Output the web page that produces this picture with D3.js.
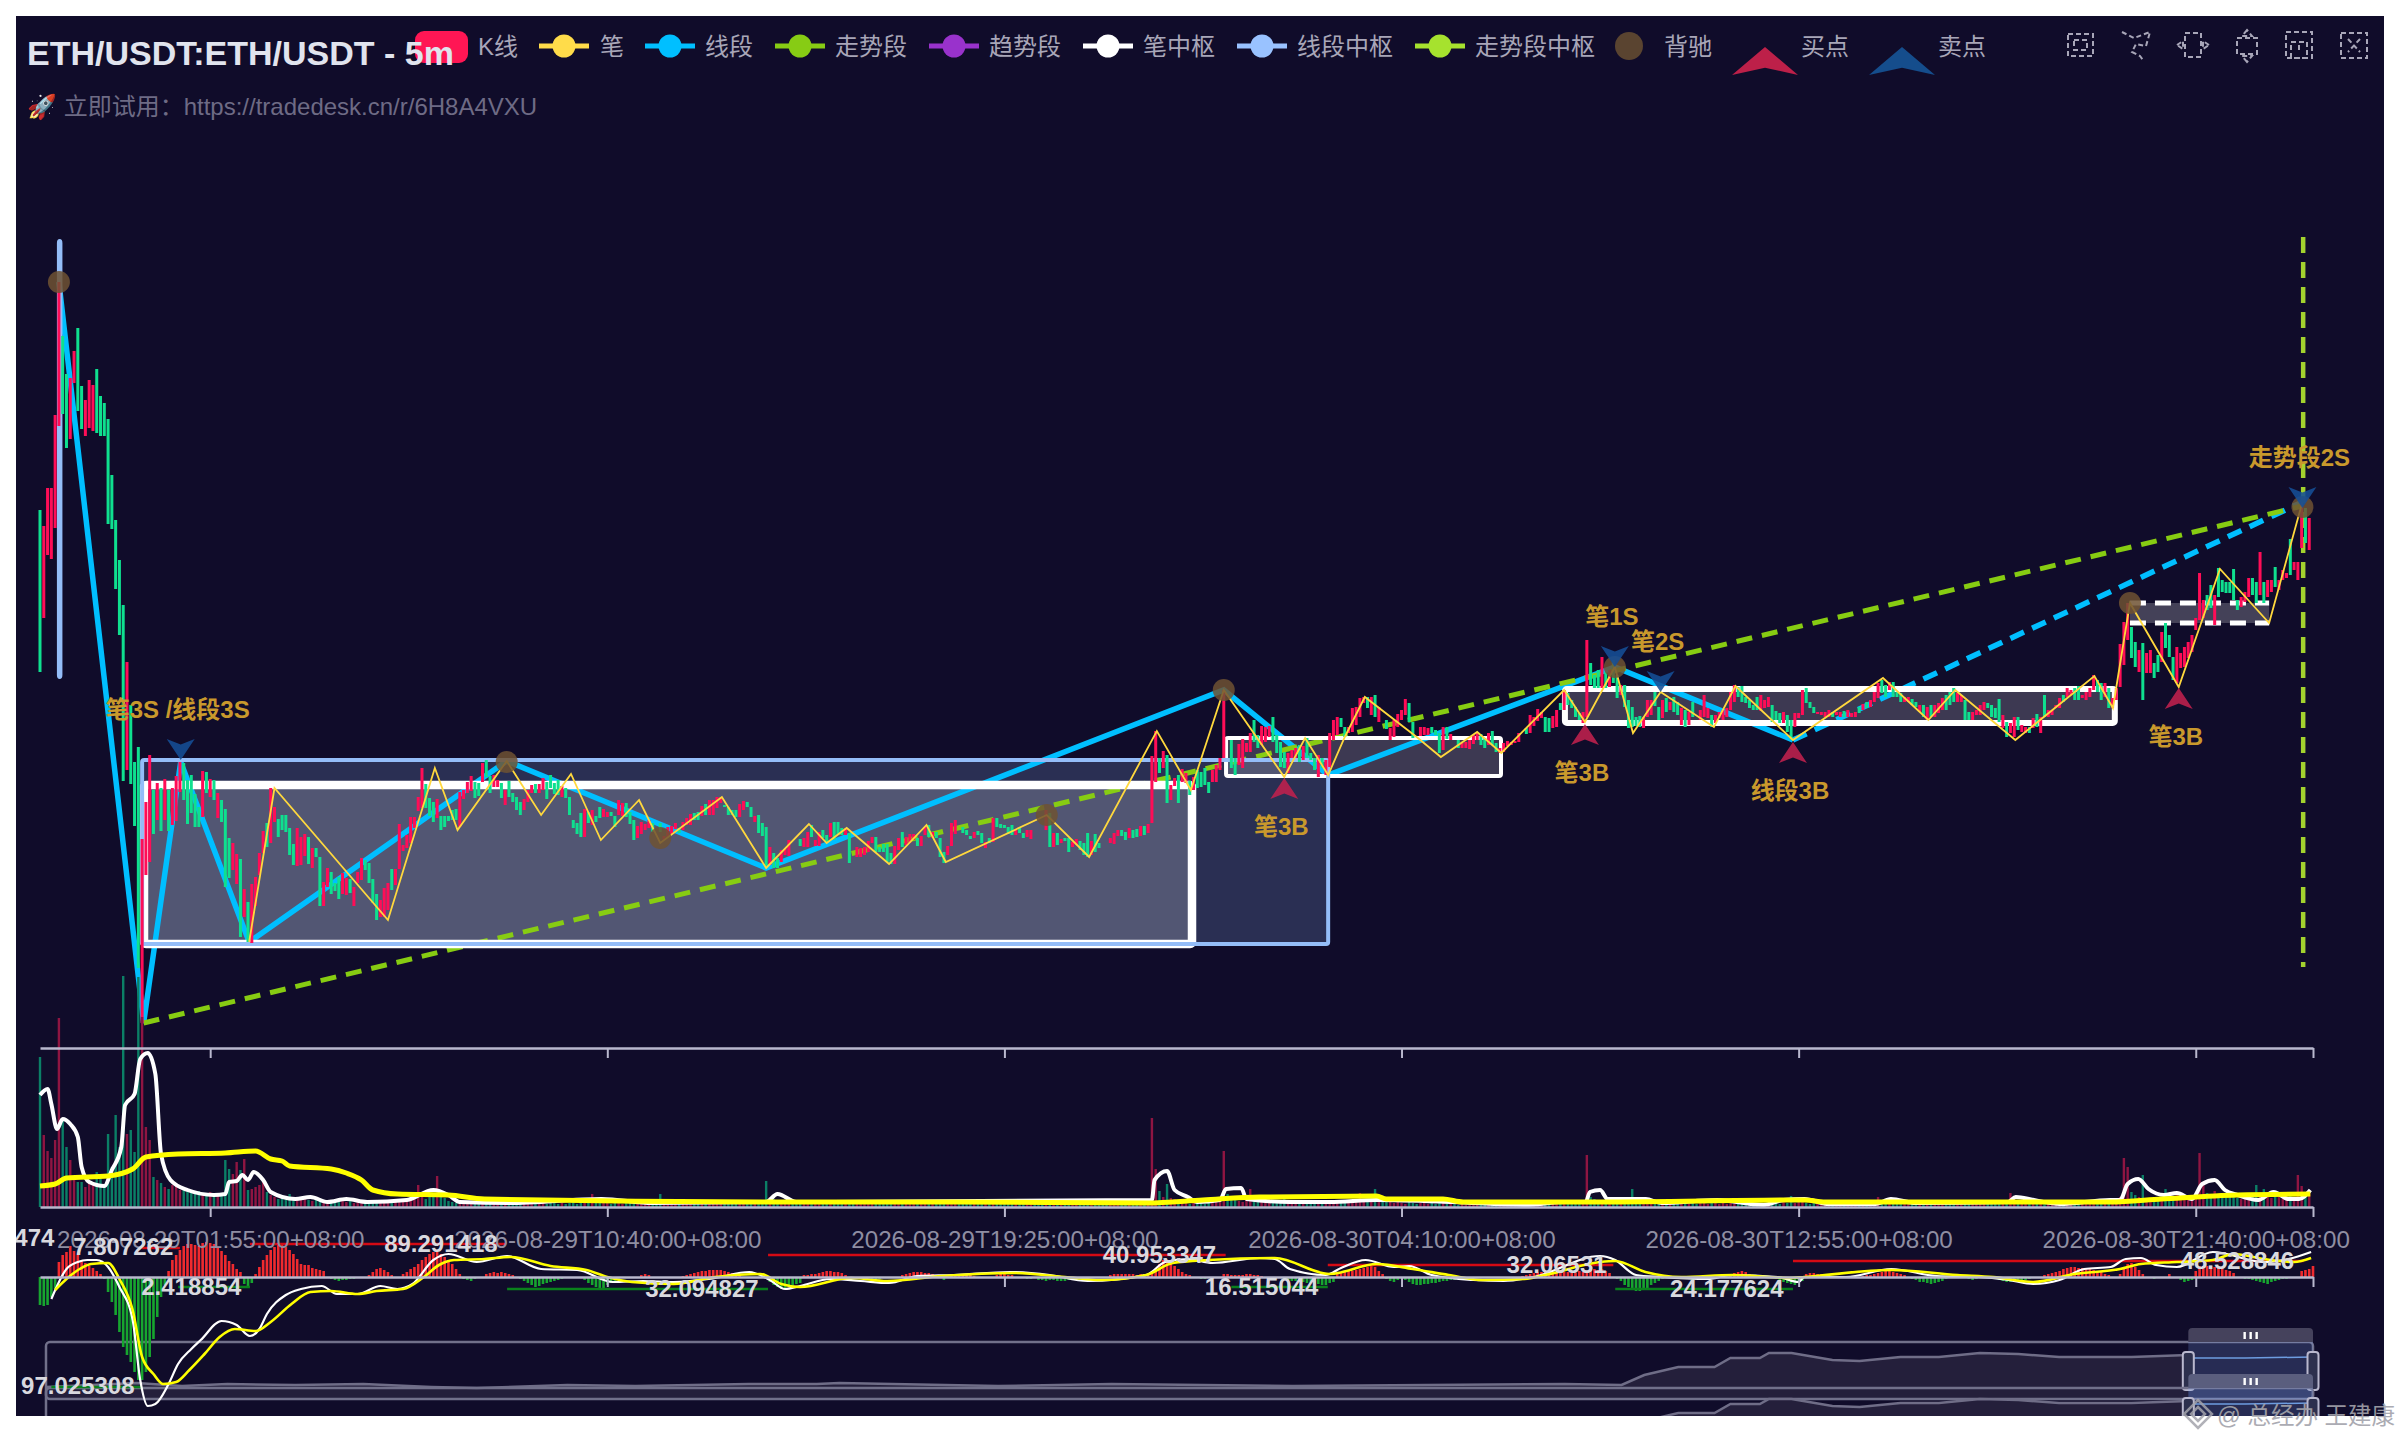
<!DOCTYPE html>
<html>
<head>
<meta charset="utf-8" />
<script src="https://d3js.org/d3.v7.min.js"></script>
<style>
	html, body { margin:0; padding:0; background:#fff; }
	svg { display:block; font-family:"Liberation Sans","Noto Sans CJK SC",sans-serif; }
</style>
</head>
<body>
<script>
// the picture has no price axis, so prices and volumes are relative units read off the chart
var titleText = "ETH/USDT:ETH/USDT - 5m";
var subtitleText = "🚀 立即试用：https://tradedesk.cn/r/6H8A4VXU";
var legendNames = ["K线","笔","线段","走势段","趋势段","笔中枢","线段中枢","走势段中枢","背驰","买点","卖点"];
var tickBars = [45,150,255,360,465,570,601];
var tickLabels = ["2026-08-29T01:55:00+08:00","2026-08-29T10:40:00+08:00","2026-08-29T19:25:00+08:00","2026-08-30T04:10:00+08:00","2026-08-30T12:55:00+08:00","2026-08-30T21:40:00+08:00",""];

// kline rows: [first bar, [[open,close],...]]
var candleRows = [
[0,[[538,376],[430,522],[493,560],[489,560],[520,633],[622,766],[712,634],[674,600],[609,670],[665,697],[720,637],[662,619],[612,648],[620,668],[617,663],[679,615],[652,612],[645,612],[629,524],[573,519]]],
[20,[[528,459],[488,413],[443,267],[278,386],[343,264],[286,222],[301,80],[25,209],[173,246],[186,293],[258,214],[228,265],[260,217],[228,269],[258,217],[223,260],[227,272],[256,286],[285,248],[268,224]]],
[40,[[273,235],[254,221],[241,221],[231,277],[276,255],[251,269],[268,248],[230,255],[248,226],[239,161],[210,170],[178,205],[164,194],[189,111],[131,159],[146,106],[105,164],[142,171],[173,195],[195,217]]],
[60,[[225,201],[205,260],[226,241],[229,211],[233,218],[233,216],[220,193],[204,183],[182,220],[183,211],[192,214],[211,184],[180,200],[200,191],[191,142],[142,166],[161,180],[176,154],[165,157],[171,149]]],
[80,[[154,175],[153,170],[169,155],[142,161],[165,176],[168,190],[188,178],[185,165],[169,145],[154,128],[131,148],[131,160],[138,165],[179,158],[163,179],[179,224],[197,203],[200,213],[205,231],[220,231]]],
[100,[[237,251],[240,280],[264,240],[250,232],[246,226],[230,249],[232,218],[232,221],[232,227],[238,228],[239,228],[221,256],[249,258],[255,266],[257,272],[266,250],[265,252],[266,285],[288,271],[272,255]]],
[120,[[261,273],[261,268],[265,250],[243,258],[267,251],[255,246],[251,238],[246,233],[238,249],[246,258],[255,263],[264,255],[255,264],[258,270],[266,249],[273,260],[265,254],[268,253],[251,262],[260,250]]],
[140,[[251,233],[228,220],[225,214],[235,211],[211,239],[236,225],[223,238],[232,226],[241,230],[231,239],[231,236],[236,232],[232,221],[233,248],[232,245],[245,231],[236,224],[228,208]]],
[158,[[210,222],[214,226],[218,224],[220,228],[225,216]]],
[164,[[225,216],[208,212],[211,221],[214,222],[219,225],[220,215],[218,226],[223,230],[223,234],[235,228],[236,228],[232,242],[244,233],[233,248]]],
[178,[[233,248],[240,251],[245,251],[243,241],[241,233],[238,233],[238,231],[231,244],[238,247],[246,241],[241,231],[226,232],[233,215],[225,212],[221,181]]],
[193,[[183,201],[195,180],[190,180],[186,198],[193,199],[192,208]]],
[201,[[209,202],[201,210],[201,216],[223,211],[202,208],[202,216],[218,210],[213,206],[211,225],[226,208],[226,213],[220,213],[213,220],[215,185]]],
[216,[[191,201],[191,200],[193,201],[196,207],[205,211],[211,196],[201,196],[204,196],[204,186],[195,184],[184,202],[198,210],[216,201],[203,211],[205,214],[208,214],[210,202],[202,212],[213,221],[223,211],[210,216],[216,210],[210,191],[196,185],[193,202],[202,225],[214,228]]],
[244,[[221,215],[218,213],[212,209],[210,216],[217,213],[215,205],[200,206],[210,205],[206,230],[230,221],[224,220],[223,220],[221,214],[223,213],[213,218],[220,215],[215,210],[211,218],[209,218]]],
[266,[[218,238],[235,201],[201,215],[215,203],[205,209],[210,207],[210,196],[201,206],[203,209],[207,198],[205,193],[215,191],[193,207],[214,196],[205,200]]],
[283,[[205,210],[204,215],[212,218],[218,212],[216,208],[210,220],[218,210],[219,211],[212,222],[222,213],[215,224]]],
[294,[[225,292],[266,317],[290,275],[280,297],[293,245],[248,263],[262,270],[273,245]]],
[302,[[266,279],[265,275],[267,253],[258,271],[278,260],[276,261],[280,263],[266,255],[266,278],[266,283],[278,290],[290,358]]],
[315,[[308,280],[290,273],[283,304],[280,309],[296,305],[296,315],[328,306],[313,300],[303,322],[306,321],[311,322],[331,306],[313,295],[306,281],[296,280],[275,295],[290,298],[290,300],[303,286],[288,302],[310,290],[295,288],[290,278],[271,293],[290,280],[273,288]]],
[341,[[281,315],[308,328],[313,331],[330,321],[321,311],[315,321],[316,340],[323,341],[331,350],[345,351],[351,340],[333,351],[353,331],[326,341]]],
[356,[[328,319],[308,320],[311,328],[321,334],[328,338],[333,349],[345,326],[326,310]]],
[365,[[312,321],[313,321],[313,320],[321,315],[318,313],[315,295],[298,321],[321,309],[308,314]]],
[375,[[308,300],[300,305],[300,306],[299,308],[304,313],[308,315],[314,303],[310,300],[303,315],[317,303],[305,296],[295,300],[296,305],[302,307],[303,306],[305,307],[306,315]]],
[393,[[320,314],[315,333],[322,331],[327,339],[330,336],[331,316],[330,316],[320,332],[321,338],[345,338],[338,358],[355,343],[348,340],[341,331],[335,328],[325,336],[331,408]]],
[410,[[385,363],[373,360],[378,360],[360,391],[376,360],[361,378],[388,365],[373,350],[353,363],[363,341],[348,320],[341,321],[331,322],[332,321],[320,331],[331,348],[333,348],[356,342],[341,328],[330,348],[350,336],[338,346],[351,336],[346,333],[323,340],[338,321],[323,336],[346,331]]],
[439,[[328,338],[331,353],[330,340],[333,321],[325,333],[330,336],[328,338],[331,340],[338,356],[346,363],[361,351],[362,346],[351,345],[348,340],[343,338],[351,338],[337,353],[340,348],[341,351],[343,326]]],
[459,[[337,328],[335,325],[325,336],[333,316],[328,308],[321,335],[330,335],[333,358],[360,345],[346,340],[341,335],[334,336],[333,336],[331,336],[331,338],[336,331],[333,336],[331,336],[337,331],[331,338]]],
[479,[[331,335],[331,336],[341,335],[338,344],[346,340],[341,348],[346,356],[350,365],[368,355],[363,351],[358,366],[366,351],[356,351],[355,346],[346,351],[346,351],[349,343],[346,341],[336,343],[343,331]]],
[499,[[328,341],[343,331],[331,343],[335,345],[338,350],[353,338],[356,343],[360,346],[346,355],[346,353],[348,328],[336,328],[328,336],[333,338],[333,343],[338,346],[345,340],[343,331],[340,330],[349,326]]],
[519,[[320,333],[326,311],[315,325],[311,331],[331,318],[316,323],[315,321],[321,315],[320,330],[334,321],[315,331],[353,331],[331,338],[333,338],[340,343],[340,350],[353,346],[351,360],[353,358],[360,348]]],
[539,[[362,348],[350,353],[348,356],[351,360],[358,373],[368,356],[365,348],[351,365],[360,340],[340,350],[348,360],[361,404],[383,426],[408,445],[421,390],[406,381],[376,398],[405,348],[375,395],[375,398]]],
[559,[[385,370],[393,376],[386,416],[425,400],[413,391],[391,368],[365,401],[380,395],[381,401],[390,406],[396,413],[418,430],[428,475],[430,448],[453,438],[463,440],[423,453],[480,451],[468,456],[466,455]]],
[579,[[466,455],[479,448],[448,438],[441,451],[446,456],[451,470],[470,453],[466,445],[453,496],[466,445],[451,468],[456,468],[481,461],[458,468],[468,478],[470,475],[509,473],[478,486],[468,486],[500,546]]],
[599,[[540,505],[498,530]]]
];

var volumes = [
150,72,56,49,67,189,88,60,47,30,25,25,20,25,22,35,28,20,73,40,
92,60,231,73,77,55,230,190,80,67,30,27,24,20,18,22,23,17,20,18,
17,14,16,13,12,15,11,13,12,47,38,33,45,37,48,17,18,20,22,28,
15,12,10,8,12,9,13,8,7,9,10,7,6,8,7,5,6,4,6,5,
7,5,6,4,5,6,4,5,7,5,6,4,5,6,5,7,8,9,10,11,
22,10,8,12,14,31,12,9,6,5,4,3,4,3,5,4,3,4,5,3,
4,3,5,4,3,4,3,4,6,3,4,5,3,4,3,5,4,3,4,3,
4,5,3,4,6,5,13,5,4,6,5,3,4,5,3,4,6,3,4,3,
4,3,5,3,13,4,3,5,4,3,4,5,3,4,3,5,4,3,4,3,
3,4,5,3,4,3,4,3,5,4,6,7,26,10,8,7,5,4,3,4,
4,5,3,4,3,4,7,3,4,3,5,4,3,4,5,6,3,4,3,4,
3,5,4,3,4,3,4,6,3,4,3,4,5,3,4,3,6,4,3,4,
3,4,3,5,3,4,3,4,3,4,3,4,5,3,4,3,4,5,3,4,
3,4,3,8,4,3,4,3,4,3,5,3,4,8,4,3,4,3,4,5,
3,4,3,4,5,3,4,3,4,3,5,4,6,8,89,38,16,10,23,9,
8,6,5,4,3,5,4,5,3,6,5,6,8,56,13,10,8,6,5,9,
18,8,7,9,6,8,5,4,6,9,5,4,6,5,4,3,5,4,6,3,
5,4,6,5,4,6,4,5,6,14,5,6,7,18,8,6,5,6,4,5,
4,3,5,4,3,4,5,3,4,3,4,5,3,4,3,2,3,2,3,2,
3,2,3,2,3,2,3,2,3,4,3,2,3,4,3,5,4,3,4,3,
4,3,5,4,6,5,4,3,5,52,10,8,6,7,5,4,6,5,4,3,
5,18,5,4,5,3,4,3,4,3,4,3,4,5,3,4,3,4,3,4,
5,3,4,5,3,4,3,4,3,4,3,2,3,2,3,2,3,2,3,4,
3,5,4,11,4,6,5,4,3,4,3,2,3,2,3,2,3,4,3,2,
3,2,3,4,5,6,10,5,6,4,3,4,3,5,4,3,4,3,5,4,
3,5,4,3,4,5,6,4,3,5,4,6,5,4,6,5,4,3,4,5,
7,14,8,6,5,4,3,4,3,4,5,3,4,5,3,4,3,5,4,6,
5,4,6,5,8,5,6,7,8,9,10,49,40,15,12,10,32,9,8,10,
8,9,18,10,8,12,9,8,7,9,12,54,23,14,12,16,13,10,14,12,
11,9,8,10,12,13,22,10,18,12,9,11,10,8,10,12,9,32,21,12,
14
];

// moving averages of the volume
var volWhiteBars = [0,2,3,4.5,6,8,10,11,13,17,19,21.5,22.5,25,26.5,28.5,30.5,32,34.5,39,46,49,50,52,53.5,55,56.5,59,61,67.5,71.5,76,81,86.5,97,104,108,111,124,148.5,162,192,195,200,294,294.7,298,300,303.5,306,312,313.6,317.6,319,330.5,341,353.4,373.6,392.5,403.3,408.7,409.8,412.5,414.5,424.6,428.7,443.5,455.7,461,466.5,473,485.3,489.4,496,520.4,522.4,527.2,534,547.4,550,552,554.8,557.5,561.6,565,569,571.7,575,577.7,581,586.5,590.6,594.6,597.3,600.3];
var volWhite = [112,118,103,78,88,83,70,40,25,21,37,60,102,113,148,154,133,53,27,17,12,13,25,26,32,27,35,27,15,8,10,5,8,5,7,17,12,5,4,8,4,5,13,5,7,27,36,17,10,5,7,18,19,8,5,5,7,5,2,5,5,15,17,8,8,4,7,2,7,8,3,3,8,4,5,10,7,3,7,7,23,28,18,12,14,8,23,27,17,12,7,15,8,8,17];
var volYellowBars = [0,4,7,18,24.5,28,36.5,49,57,61,64,66,77,81,85,88,94.5,108,117.5,201,243,292.7,307.5,322.4,353.4,356,371,376.3,412.5,466.5,472,547.4,561,581,600.3];
var volYellow = [21,23,29,31,38,50,53,54,56,48,46,41,38,34,27,17,13,12,8,5,5,4,7,10,11,8,8,5,5,7,5,5,8,12,13];

// macd histogram rows: [first bar, [values]]
var macdRows = [
[0,[-28,-29,-28,-20,-12,15,22,25,31,26,22,16,14,11,9,6,3,-2,-15,-25,-38,-55,-70,-78,-85,-95,-103,-103,-95,-80,-62,-40,-20,-8,6,17,22,27,31,33,33,32,31,34,35,34,33,30,26,22,16,13,8,5,-7,-10,-6,3,10,17,22,27,30,32,32,30,27,23,18,13,12,12,9,8,7,6]],
[77,[-2,-3,-4,-3,-3,-2,-2,-1,-1,-1]],
[87,[2,5,8,9,7,5,2]],
[96,[3,5,8,10,13,17,20,23,25,25,23,20,17,13,8,3,-2,-3,-4,-2]],
[118,[3,4,5,4,5,4,3,2,-1,-2,-4,-6,-8,-10,-9,-7,-6,-5,-4,-3,-2]],
[144,[-3,-6,-8,-10,-11,-11,-8,-6,-4,-2]],
[159,[2,3,2]],
[162,[-1,-1,-1,-1]],
[170,[1,2,3,4,5,6,6,7,7,7,7,6,5,4,3,2]],
[192,[-2,-5,-8,-10,-12,-11,-9,-8,-7,-6]],
[202,[2,2,3,3,4,5,6,6,5,5,4,2]],
[216,[-1,-2,-2,-1,-2,-3,-2,-1]],
[228,[2,3,4,5,5,5,4,4,3,2,1]],
[239,[-3]],
[241,[2,3,3,2,2,2,1]],
[253,[2,3,3,2,2]],
[260,[-1,-2,-2,-1,-3,-3,-4,-3,-3,-4,-4,-4,-3,-3,-3,-2,-2,-2,-1,-1]],
[283,[2,3,3,3,3,3,3,2,3,3,3,4]],
[295,[8,13,17,15,14,11,8,5,3,2]],
[306,[-1,-2,-2,-1]],
[313,[3,3,2,2,2,2,3,3,2,2,1]],
[329,[-2,-3,-4,-4,-5,-5,-6,-6,-7,-7,-8,-8,-6,-5]],
[343,[3,4,5,6,6,7,8,9,10,11,10,6,3]],
[356,[-2,-4,-5,-3,-1,-3,-5,-7,-8,-8,-7,-7,-6,-6,-5,-4,-4,-3,-3,-2,-1,-1]],
[392,[1,2,3,4,5,5,6,6,5,5,6,5,5,4,4,6,5,5,7,8,7,8,6,4]],
[417,[-2,-4,-8,-10,-12,-14,-14,-13,-11,-8,-6,-4,-2]],
[436,[-2,-3,-2,-1]],
[447,[2,4,5,6,5,3,2]],
[459,[-2,-4,-5,-6,-7,-8,-6,-4]],
[467,[3,4,4,3,3,2,2,1]],
[482,[1,2,2,3,4,5,6,6,5,4,3,2]],
[495,[-2,-3,-5,-5,-6,-7,-6,-5,-4,-2,-1]],
[507,[1,2,1,-2,-3,-2,-1]],
[517,[-2,-3,-4,-5,-5,-5,-5,-4,-3,-2,-1]],
[530,[2,3,4,5,6,8,9,10,10,9,9,8,8,7,6,5,3,2,-1]],
[550,[3,8,13,14,10,7,3]],
[558,[-1,-2,-1]],
[563,[3]],
[566,[-3,-5,-4,-3]],
[570,[6,11,11,11,11,10,10,9,7,6,4]],
[582,[-1,-2,-2,-3,-4,-5,-6,-7,-5,-4,-3,-2,-2,-1,-1]],
[598,[6,7,8,11]]
];

var difBars = [3,7,10,12.5,15,18,21,24.5,26.5,28.5,30.5,34,36.5,40,42.5,48,52,55.5,58,60,65,69,74.5,78.5,84,90,94.5,98.5,104,108,115.5,123.5,132.5,142,151.5,159.5,167.5,178.5,187.5,193,197,201,209,217,224.5,232,241.5,256.5,267,277,292.5,297.5,303.5,310,322.5,326.5,330.5,340,344,350.5,358,362,368,379,387,395,412.5,416.5,422,428.5,441,447.5,459.5,465,466.5,477.5,489.5,501.5,512.5,520.5,527,534,540.5,547.5,551.5,555.5,559.5,565,574.5,588,594.5,600.5];
var dif = [-22,8,15,17,17,10,-10,-43,-103,-129,-127,-107,-87,-72,-63,-44,-48,-59,-52,-37,-18,-12,-9,-17,-17,-9,-12,-7,17,23,15,21,8,7,-5,-4,-5,-1,5,-3,-12,-9,-2,-4,-6,1,2,5,2,-4,2,15,18,14,19,18,8,2,9,17,10,11,2,-3,-4,0,21,17,2,0,-2,2,0,-5,0,0,8,1,0,-3,-7,-3,8,10,18,19,12,10,25,15,18,25];
var deaBars = [4,7,10.5,13.5,18,21,24.5,27,30,32.5,36,39.5,43.5,47.5,51.5,57,61,66.5,71.5,77,84,89,96,101.5,105.5,109.5,117.5,124.5,135,144.5,150,156.5,167.5,178.5,190.5,196,201,214.5,224,238.5,257.5,271,280.5,292.5,299.5,309,326.5,341,353.5,363,372.5,381.5,392.5,398,412.5,416.5,424.5,434,447.5,462.5,466.5,489.5,507,516.5,527,538,550,555.5,565,574.5,580,588,596,600.5];
var dea = [-13,-2,8,13,14,-2,-33,-80,-97,-107,-105,-93,-77,-60,-52,-54,-45,-27,-15,-14,-17,-14,-12,0,12,17,18,20,11,7,0,-5,-7,0,3,-7,-10,-1,-4,1,4,0,-3,2,14,17,19,3,13,8,2,-3,-2,2,15,16,5,0,2,-1,0,7,2,0,-5,3,8,13,15,17,23,18,15,19];

// bar start, bar end, level of each line in the macd pane
var redLevelStart = [27,55.5,192.5,340.5,463.5];
var redLevelEnd = [37,123,313.5,416,598.5];
var redLevel = [29,33,22,12,16];
var greenLevelStart = [3,36.5,123.5,315,416.5];
var greenLevelEnd = [27,55.5,192.5,340.5,463.5];
var greenLevel = [-110,-10,-12,-10,-12];
var macdLabels = ["474","7.807262","89.291418","2.418854","32.094827","97.025308","40.953347","16.515044","32.06531","24.177624","48.528846"];
var macdLabelBars = [-1.5,22,106,40,175,10,296,323,401,446,581];
var macdLabelValues = [40,31,34,-9,-11,-108,23,-9,13,-11,17];

// 笔, 线段 and 走势段 pivots
var penBars = [55.3,62,92,104.4,110.4,123.4,132.5,140.4,148.3,158.4,164,180.3,192,203.3,208,213.3,224.5,234.4,239.5,266.2,277.4,295.3,304.3,313,329,334.5,340.6,345,350.3,364,370.4,380,386.4,403,408.5,416.4,421.2,428.5,442.6,448.3,463.5,487.3,499.3,506.4,522.3,543.2,548.1,552.6,565.5,576.4,589.4,598.2];
var penPrices = [106,260,128,280,218,287,233,274,208,248,205,251,180,224,205,220,184,223,186,233,191,317,258,358,271,310,273,311,351,311,291,316,295,358,326,381,315,356,321,362,308,370,328,358,308,372,340,445,361,479,425,546];
var segBars = [5,27.4,37.2,55.3,123.4,192,313,340.6,416.4,463.5];
var segPrices = [766,25,286,106,287,180,358,273,381,308];
var segLastBars = [463.5,598.2];
var segLastPrices = [308,546];
var trendBars = [27.4,598.2];
var trendPrices = [25,542];

// zones: bar from, bar to, price low, price high
var penZoneFrom = [27.5,313.6,403.2];
var penZoneTo = [304.6,386.3,548.6];
var penZoneLow = [104,272,325];
var penZoneHigh = [263,310,359];
var openZoneFrom = [552.6];
var openZoneTo = [589.4];
var openZoneLow = [425];
var openZoneHigh = [445];
var segZoneFrom = [27,5];
var segZoneTo = [340.6,5.4];
var segZoneLow = [104,371];
var segZoneHigh = [288,807];
var trendZoneBar = 598.4;
var trendZoneLow = 81;
var trendZoneHigh = 811;

var divergeBars = [5,123.4,164,266.2,313,416.4,552.6,598.2];
var divergePrices = [766,286,210,233,358,381,445,541];
var buyBars = [329,408.5,463.5,565.5];
var buyPrices = [270,324,306,360];
var buyLabels = ["笔3B","笔3B","线段3B","笔3B"];
var sellBars = [37.2,416.4,428.5,598.2];
var sellPrices = [288,381,356,540];
var sellLabels = ["笔3S /线段3S","笔1S","笔2S","走势段2S"];

// data zoom shadow: percent of the slider width, height in the slider
var shadowPct = [0,4,6,8,11,14,17,19,23,26,31,34,35,42,47,55,67,69.5,70.5,72,73.6,74.3,75.6,76,77,78.8,80,81.8,83.5,85.3,87,88.8,92,94.5];
var shadowVal = [12,16,13,15,14,15,12,11,14,13,15,15,16,13,15,13,15,14,24,32,32,41,41,46,46,39,38,42,42,46,45,42,42,44];
var zoomWindow = [94.5,100];
var windowPct = [94.5,97,100];
var windowVal = [41,41,42];

var width = 2400, height = 1440;
var bgColor = "#100c2a", axisColor = "#b9b8ce", upColor = "#ff0d57", downColor = "#0fe08f";
var penColor = "#ffd83d", segColor = "#00bfff", trendColor = "#87cc12", blueZone = "#94bdf8", goldColor = "#c9992c";

var x = d3.scaleLinear().domain([0,601]).range([40,2313]);
var yPrice = d3.scaleLinear().domain([0,800]).range([1048,248]);
var yVol = d3.scaleLinear().domain([0,200]).range([1207,1007]);
var yMacd = d3.scaleLinear().domain([-120,40]).range([1397,1237]);
var sliderX = d3.scaleLinear().domain([0,100]).range([46,2313]);

// flatten the rows into per bar tables
var candles = [];
candleRows.forEach(function(r) {
	r[1].forEach(function(c,i) { candles[r[0]+i] = {bar:r[0]+i, open:c[0], close:c[1]}; });
});
candles = candles.filter(function(c) { return c; });
var upByBar = {};
candles.forEach(function(c) { upByBar[c.bar] = c.close >= c.open; });
var macdHist = [];
macdRows.forEach(function(r) {
	r[1].forEach(function(v,i) { macdHist.push({bar:r[0]+i, val:v}); });
});

var svg = d3.select("body").append("svg").attr("width",width).attr("height",height);
svg.append("defs").append("clipPath").attr("id","page").append("rect")
	.attr("x",16).attr("y",16).attr("width",2368).attr("height",1400);
svg.append("rect").attr("x",16).attr("y",16).attr("width",2368).attr("height",1400).attr("fill",bgColor);
var chart = svg.append("g").attr("clip-path","url(#page)");

function lineOf(bars,vals,yScale,curve) {
	var l = d3.line().x(function(d) { return x(d[0]); }).y(function(d) { return yScale(d[1]); });
	if (curve) l.curve(d3.curveMonotoneX);
	return l(bars.map(function(b,i) { return [b,vals[i]]; }));
}

function zones(from,to,low,high,fill,stroke,sw,dash) {
	chart.append("g").selectAll("rect").data(from).enter().append("rect")
		.attr("x",function(d) { return x(d); })
		.attr("width",function(d,i) { return x(to[i])-x(d); })
		.attr("y",function(d,i) { return yPrice(high[i]); })
		.attr("height",function(d,i) { return yPrice(low[i])-yPrice(high[i]); })
		.attr("rx",2)
		.attr("fill",fill).attr("stroke",stroke).attr("stroke-width",sw).attr("stroke-dasharray",dash);
}

// data zoom, two stacked sliders, under the macd pane
function drawSlider(top,barFill) {
	var bottom = top+57;
	var sy = d3.scaleLinear().domain([0,57]).range([bottom,top]);
	var pts = shadowPct.map(function(p,i) { return [p,shadowVal[i]]; });
	var a = d3.area().x(function(d) { return sliderX(d[0]); }).y0(bottom).y1(function(d) { return sy(d[1]); });
	var l = d3.line().x(function(d) { return sliderX(d[0]); }).y(function(d) { return sy(d[1]); });
	chart.append("path").attr("d",a(pts)).attr("fill","#241f3b");
	chart.append("path").attr("d",l(pts)).attr("fill","none").attr("stroke","#6f6d87").attr("stroke-width",2.5);
	chart.append("rect").attr("x",sliderX(0)).attr("y",top).attr("width",sliderX(100)-sliderX(0)).attr("height",57).attr("rx",4)
		.attr("fill","none").attr("stroke","#71708a").attr("stroke-width",2.5);
	var wx0 = sliderX(zoomWindow[0]), wx1 = sliderX(zoomWindow[1]);
	chart.append("rect").attr("x",wx0).attr("y",top).attr("width",wx1-wx0).attr("height",57).attr("fill","rgba(135,175,255,0.2)");
	chart.append("path").attr("d",l(windowPct.map(function(p,i) { return [p,windowVal[i]]; })))
		.attr("fill","none").attr("stroke","#6d9ce0").attr("stroke-width",1.5);
	// move handle with the three grip marks
	chart.append("path").attr("d","M"+wx0+","+top+"V"+(top-10)+"q0,-4 4,-4H"+(wx1-4)+"q4,0 4,4V"+top+"Z").attr("fill",barFill);
	[-6,0,6].forEach(function(o) {
		chart.append("rect").attr("x",(wx0+wx1)/2+o-1.2).attr("y",top-10).attr("width",2.4).attr("height",7).attr("fill","#fff");
	});
	[wx0,wx1].forEach(function(hx) {
		chart.append("rect").attr("x",hx-5.5).attr("y",top+10).attr("width",11).attr("height",38).attr("rx",3)
			.attr("fill","#2d304e").attr("stroke","#b9b8ce").attr("stroke-width",2);
	});
}
drawSlider(1342,"#45425c");
drawSlider(1388,"#5a5e7e");

// zone fills first, the segments over them, the zone borders over the segments
zones(segZoneFrom,segZoneTo,segZoneLow,segZoneHigh,"rgba(148,189,248,0.2)","none",0,null);
zones(penZoneFrom,penZoneTo,penZoneLow,penZoneHigh,"rgba(255,255,255,0.19)","none",0,null);
zones(openZoneFrom,openZoneTo,openZoneLow,openZoneHigh,"rgba(255,255,255,0.22)","none",0,null);

chart.append("path").attr("d",lineOf(segBars,segPrices,yPrice)).attr("fill","none").attr("stroke",segColor).attr("stroke-width",5.5);
chart.append("path").attr("d",lineOf(segLastBars,segLastPrices,yPrice)).attr("fill","none").attr("stroke",segColor).attr("stroke-width",5.5).attr("stroke-dasharray","15,9");
chart.append("path").attr("d",lineOf(trendBars,trendPrices,yPrice)).attr("fill","none").attr("stroke",trendColor).attr("stroke-width",5).attr("stroke-dasharray","16,10");

zones(penZoneFrom.slice(0,1),penZoneTo.slice(0,1),penZoneLow.slice(0,1),penZoneHigh.slice(0,1),"none","#fff",8.5,null);
zones(penZoneFrom.slice(1,2),penZoneTo.slice(1,2),penZoneLow.slice(1,2),penZoneHigh.slice(1,2),"none","#fff",4,null);
zones(penZoneFrom.slice(2),penZoneTo.slice(2),penZoneLow.slice(2),penZoneHigh.slice(2),"none","#fff",6,null);
zones(segZoneFrom,segZoneTo,segZoneLow,segZoneHigh,"none",blueZone,4,null);
[openZoneLow[0],openZoneHigh[0]].forEach(function(p) {
	chart.append("line").attr("x1",x(openZoneFrom[0])).attr("x2",x(openZoneTo[0]))
		.attr("y1",yPrice(p)).attr("y2",yPrice(p)).attr("stroke","#fff").attr("stroke-width",5).attr("stroke-dasharray","16,9");
});
chart.append("line").attr("x1",x(trendZoneBar)).attr("x2",x(trendZoneBar))
	.attr("y1",yPrice(trendZoneHigh)).attr("y2",yPrice(trendZoneLow))
	.attr("stroke","#a3d22e").attr("stroke-width",4.5).attr("stroke-dasharray","16,9");

// kline
chart.append("g").selectAll("rect").data(candles).enter().append("rect")
	.attr("x",function(d) { return x(d.bar)-1.5; })
	.attr("width",3)
	.attr("y",function(d) { return yPrice(Math.max(d.open,d.close)); })
	.attr("height",function(d) { return Math.max(1,Math.abs(yPrice(d.open)-yPrice(d.close))); })
	.attr("fill",function(d) { return d.close>=d.open ? upColor : downColor; });

chart.append("path").attr("d",lineOf(penBars,penPrices,yPrice)).attr("fill","none").attr("stroke",penColor).attr("stroke-width",1.8);

// divergence dots
chart.append("g").selectAll("circle").data(divergeBars).enter().append("circle")
	.attr("cx",function(d) { return x(d); })
	.attr("cy",function(d,i) { return yPrice(divergePrices[i]); })
	.attr("r",11).attr("fill","#6e5233").attr("opacity",0.85);

// buy and sell arrows, tip on the pivot
function arrow(w,h) { return "M0,0L"+(w/2)+","+h+"L0,"+(h*0.74)+"L"+(-w/2)+","+h+"Z"; }
function flags(bars,prices,labels,up,color,labelDy) {
	var g = chart.append("g");
	bars.forEach(function(b,i) {
		var px = x(b), py = yPrice(prices[i]);
		g.append("path").attr("d",arrow(28,21))
			.attr("transform","translate("+px+","+py+")"+(up ? "" : " scale(1,-1)"))
			.attr("fill",color).attr("opacity",0.88);
		g.append("text").attr("x",px-3).attr("y",py+labelDy).attr("text-anchor","middle")
			.attr("dominant-baseline","central").attr("font-size",24).attr("font-weight","bold")
			.attr("fill",goldColor).text(labels[i]);
	});
}
flags(buyBars,buyPrices,buyLabels,true,"#c0214d",48);
flags(sellBars,sellPrices,sellLabels,false,"#154f96",-51);

// volume pane
chart.append("g").selectAll("rect").data(volumes).enter().append("rect")
	.attr("x",function(d,i) { return x(i)-1.2; })
	.attr("width",2.4)
	.attr("y",function(d) { return yVol(d); })
	.attr("height",function(d) { return yVol(0)-yVol(d); })
	.attr("fill",function(d,i) { return upByBar[i] ? "#8f1542" : "#0b7f66"; });
chart.append("path").attr("d",lineOf(volWhiteBars,volWhite,yVol,true)).attr("fill","none").attr("stroke","#fff").attr("stroke-width",4);
chart.append("path").attr("d",lineOf(volYellowBars,volYellow,yVol,true)).attr("fill","none").attr("stroke","#ffff00").attr("stroke-width",5);

// macd pane
chart.append("g").selectAll("rect").data(macdHist).enter().append("rect")
	.attr("x",function(d) { return x(d.bar)-1.3; })
	.attr("width",2.6)
	.attr("y",function(d) { return d.val>0 ? yMacd(d.val) : yMacd(0); })
	.attr("height",function(d) { return Math.abs(yMacd(d.val)-yMacd(0)); })
	.attr("fill",function(d) { return d.val>0 ? "#f02a2e" : "#17a52f"; });
function levels(from,to,lev,color) {
	chart.append("g").selectAll("line").data(from).enter().append("line")
		.attr("x1",function(d) { return x(d); })
		.attr("x2",function(d,i) { return x(to[i]); })
		.attr("y1",function(d,i) { return yMacd(lev[i]); })
		.attr("y2",function(d,i) { return yMacd(lev[i]); })
		.attr("stroke",color).attr("stroke-width",2.5);
}
levels(redLevelStart,redLevelEnd,redLevel,"#d40a14");
levels(greenLevelStart,greenLevelEnd,greenLevel,"#0a801c");
chart.append("path").attr("d",lineOf(difBars,dif,yMacd,true)).attr("fill","none").attr("stroke","#fff").attr("stroke-width",2.2);
chart.append("path").attr("d",lineOf(deaBars,dea,yMacd,true)).attr("fill","none").attr("stroke","#ffff00").attr("stroke-width",2.6);

// axes
function drawAxis(y,withLabels) {
	var axis = d3.axisBottom(x).tickValues(tickBars).tickSize(10).tickSizeOuter(0).tickPadding(14)
		.tickFormat(function(d) { return withLabels ? tickLabels[tickBars.indexOf(d)] : ""; });
	var g = chart.append("g").attr("transform","translate(0,"+y+")").call(axis);
	g.select(".domain").attr("stroke",axisColor).attr("stroke-width",2.5);
	g.selectAll(".tick line").attr("stroke",axisColor).attr("stroke-width",2);
	g.selectAll(".tick text").attr("font-family","\"Liberation Sans\",sans-serif").attr("font-size",24.2).attr("fill","#8f8ea2");
}
drawAxis(yPrice(0),false);
drawAxis(yVol(0),true);
drawAxis(yMacd(0),false);

chart.append("g").selectAll("text").data(macdLabels).enter().append("text")
	.attr("x",function(d,i) { return x(macdLabelBars[i]); })
	.attr("y",function(d,i) { return yMacd(macdLabelValues[i]); })
	.attr("text-anchor","middle").attr("dominant-baseline","central")
	.attr("font-size",24).attr("font-weight","bold").attr("fill","#d9d9df").text(function(d) { return d; });

// legend, starts and symbol colours follow the order of legendNames
var legendColors = ["#ff1654","#ffdc4a","#00bfff","#87cc14","#9932cc","#ffffff","#99c2ff","#a6e22e","#5a4430","#bd2049","#154d8c"];
var legendLeft = [415,539,645,775,929,1083,1237,1415,1615,1732,1869];
var legendTextX = [478,600,705,835,989,1143,1297,1475,1664,1801,1938];
var legend = svg.append("g");
legendNames.forEach(function(name,i) {
	var c = legendColors[i], l = legendLeft[i];
	if (i==0) {
		legend.append("rect").attr("x",l).attr("y",31).attr("width",53).attr("height",32).attr("rx",9).attr("fill",c);
	} else if (i<8) {
		legend.append("line").attr("x1",l).attr("x2",l+50).attr("y1",46).attr("y2",46).attr("stroke",c).attr("stroke-width",5);
		legend.append("circle").attr("cx",l+25).attr("cy",46).attr("r",11.5).attr("fill",c);
	} else if (i==8) {
		legend.append("circle").attr("cx",l+14).attr("cy",46).attr("r",14).attr("fill",c);
	} else {
		legend.append("path").attr("d",arrow(66,28)).attr("transform","translate("+(l+33)+",47)").attr("fill",c);
	}
	legend.append("text").attr("x",legendTextX[i]).attr("y",46).attr("dominant-baseline","central")
		.attr("font-size",24).attr("fill","#a8a6b8").text(name);
});

// title sits over the first legend badge
svg.append("text").attr("x",27).attr("y",65).attr("font-size",34).attr("font-weight","bold").attr("fill","#e1e4ee").text(titleText);
svg.append("text").attr("x",27).attr("y",115).attr("font-size",24).attr("fill","#6e6b85").text(subtitleText);

// toolbox icons, dashed like the originals
var iconX = [2065,2120,2177,2231,2283,2338];
var iconPaths = [
	"M3,4H28V26H3Z M9,10H22V20H9Z",
	"M2,2L14,8L30,2L26,16L16,14L12,22L20,26L23,30",
	"M8,3H24V27H8Z M0,15L6,11V19Z M32,15L26,11V19Z",
	"M6,8H26V24H6Z M16,0L11,6H21Z M16,32L11,26H21Z",
	"M3,2H29V28H3Z M8,12H24V28H8Z M16,20V12",
	"M3,3H29V28H3Z M10,9L22,22 M22,9L10,22"
];
svg.append("g").selectAll("path").data(iconPaths).enter().append("path")
	.attr("d",function(d) { return d; })
	.attr("transform",function(d,i) { return "translate("+iconX[i]+",30)"; })
	.attr("fill","none").attr("stroke","#a8a6b8").attr("stroke-width",2).attr("stroke-dasharray","5,3");

// watermark runs over the page edge
var mark = svg.append("g").attr("fill","none").attr("stroke","#a3a3ab").attr("stroke-width",2.5).attr("opacity",0.85);
mark.append("path").attr("d","M2198,1400L2212,1414L2198,1428L2184,1414Z M2198,1407L2205,1414L2198,1421L2191,1414Z");
svg.append("text").attr("x",2217).attr("y",1424).attr("font-size",23.5).attr("fill","#a3a3ab").attr("opacity",0.9).text("@ 总经办 王建康");
</script>
</body>
</html>
